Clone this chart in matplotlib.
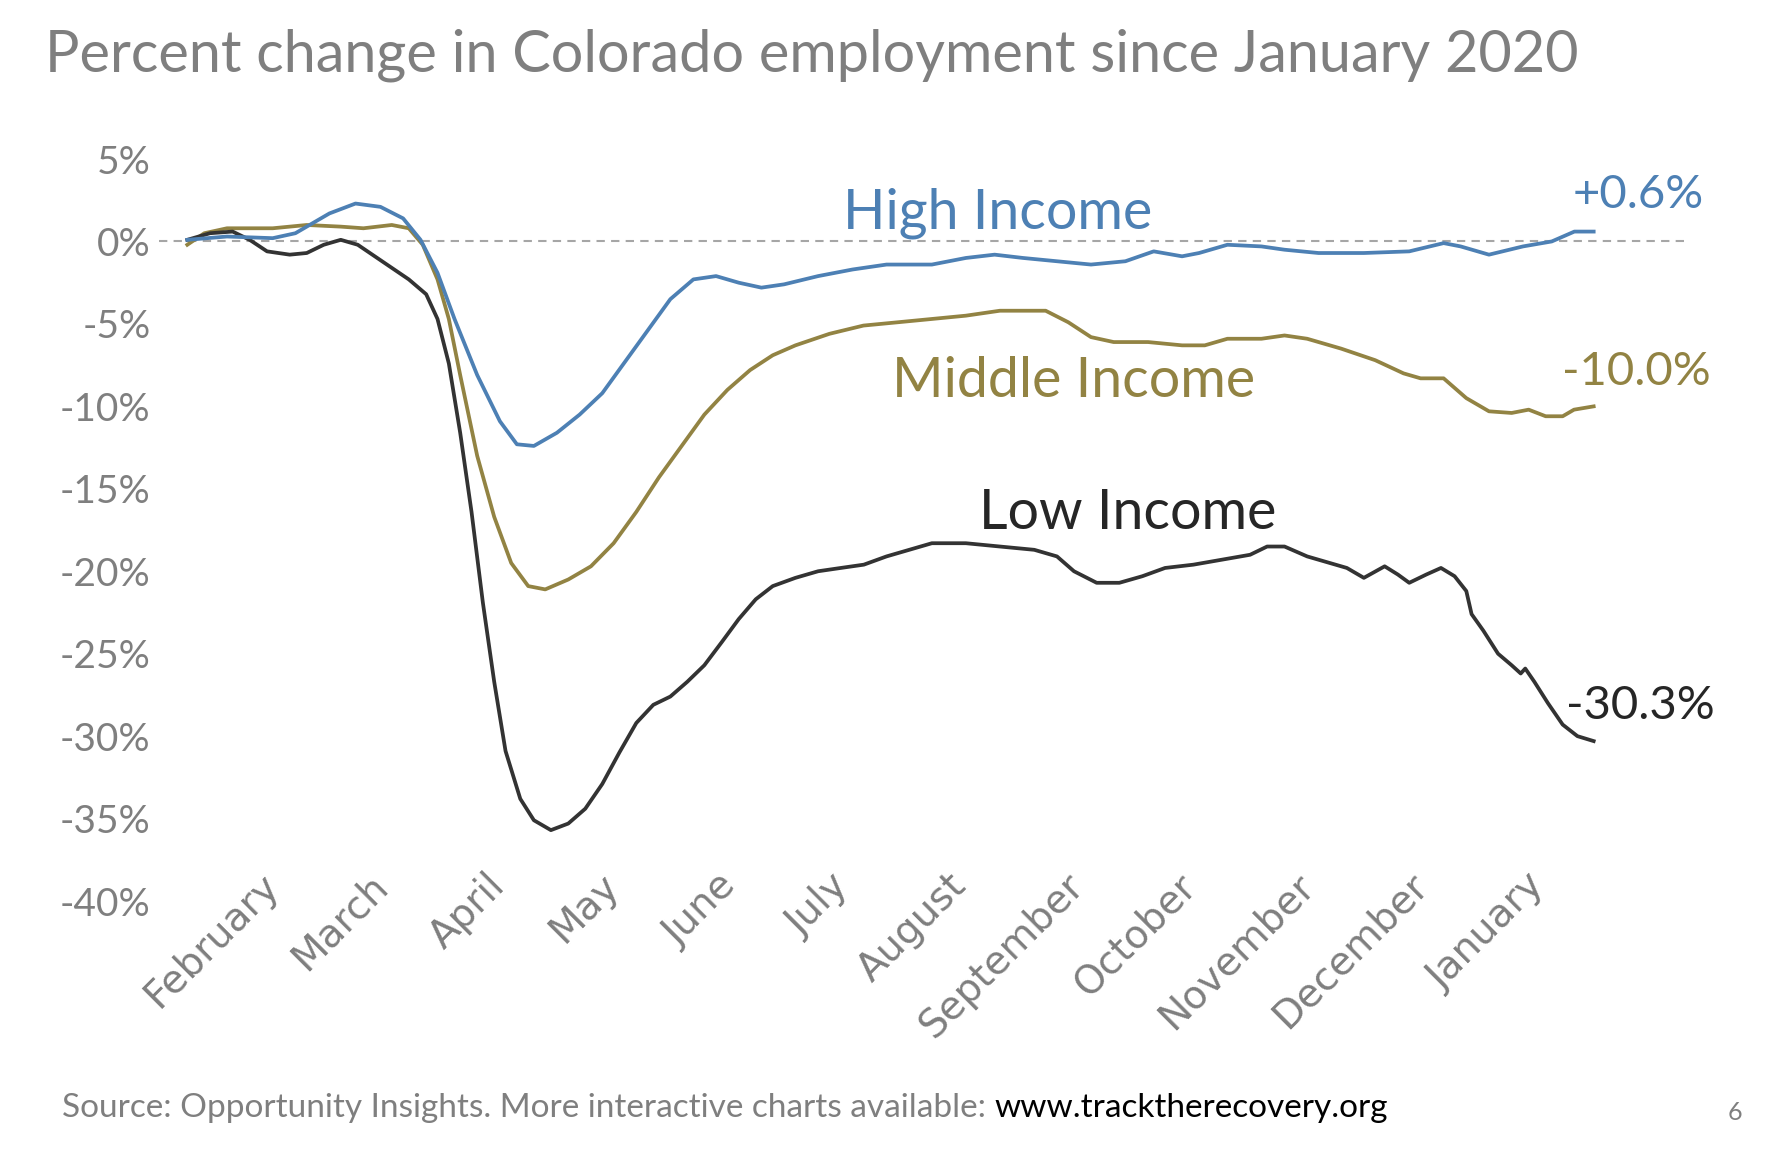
import pandas as pd
import matplotlib.pyplot as plt

# days since the first data point (13 Jan 2020)
high_days = [0, 10.5, 22.6, 28.6, 37.6, 44.5, 51.1, 57.1, 61.7, 66.2, 70.7, 76.7, 82.7, 87.2,
             91.7, 97.8, 103.8, 109.8, 115.8, 121.8, 127.8, 133.9, 139.9, 145.9, 151.9, 157.9,
             166.9, 176.0, 185.0, 197.0, 206.0, 213.6, 221.1, 230.1, 239.1, 248.2, 255.7, 263.2,
             267.7, 275.2, 284.2, 290.3, 299.3, 311.3, 323.3, 332.4, 336.9, 344.4, 353.4, 361.0,
             367.0, 372.1]
high_vals = [0.1, 0.3, 0.2, 0.5, 1.7, 2.3, 2.1, 1.4, 0.1, -1.9, -4.7, -8.1, -10.9, -12.3,
             -12.4, -11.6, -10.5, -9.2, -7.3, -5.4, -3.5, -2.3, -2.1, -2.5, -2.8, -2.6,
             -2.1, -1.7, -1.4, -1.4, -1.0, -0.8, -1.0, -1.2, -1.4, -1.2, -0.6, -0.9,
             -0.7, -0.2, -0.3, -0.5, -0.7, -0.7, -0.6, -0.1, -0.3, -0.8, -0.3, 0.0,
             0.6, 0.6]

mid_days = [0, 4.5, 10.5, 22.6, 31.6, 40.6, 46.6, 54.1, 58.6, 62.3, 66.2, 69.2, 72.2, 76.7,
            81.2, 85.7, 90.2, 94.7, 100.8, 106.8, 112.8, 118.8, 124.8, 130.8, 136.8, 142.9,
            148.9, 154.9, 160.9, 169.9, 178.9, 188.0, 197.0, 206.0, 215.0, 227.1, 233.1, 239.1,
            245.1, 254.2, 263.2, 269.2, 275.2, 284.2, 290.3, 296.3, 305.3, 314.3, 321.8, 326.3,
            332.4, 338.4, 344.4, 350.4, 354.9, 359.4, 363.9, 366.9, 372.1]
mid_vals = [-0.2, 0.5, 0.8, 0.8, 1.0, 0.9, 0.8, 1.0, 0.8, -0.2, -2.3, -4.7, -8.1, -13.0,
            -16.7, -19.5, -20.9, -21.1, -20.5, -19.7, -18.3, -16.4, -14.3, -12.4, -10.5, -9.0,
            -7.8, -6.9, -6.3, -5.6, -5.1, -4.9, -4.7, -4.5, -4.2, -4.2, -4.9, -5.8,
            -6.1, -6.1, -6.3, -6.3, -5.9, -5.9, -5.7, -5.9, -6.5, -7.2, -8.0, -8.3,
            -8.3, -9.5, -10.3, -10.4, -10.2, -10.6, -10.6, -10.2, -10.0]

low_days = [0, 6.0, 12.0, 16.5, 21.1, 27.1, 31.6, 36.1, 40.6, 45.1, 49.6, 54.1, 58.6, 63.2,
            66.2, 69.2, 72.2, 75.2, 78.2, 81.2, 84.2, 88.1, 91.7, 96.2, 100.8, 105.3, 109.8,
            114.3, 118.8, 123.3, 127.8, 132.3, 136.8, 141.4, 145.9, 150.4, 154.9, 160.9, 166.9,
            172.9, 179.0, 185.0, 191.0, 197.0, 206.0, 215.0, 224.1, 230.1, 234.6, 240.6, 246.6,
            252.7, 258.7, 266.2, 273.7, 281.2, 285.7, 290.3, 296.3, 302.3, 306.8, 311.3, 316.8,
            320.3, 323.3, 327.8, 331.7, 335.3, 338.4, 339.8, 342.9, 346.8, 350.4, 352.8, 354.0,
            356.4, 360.0, 363.9, 367.8, 372.1]
low_vals = [0.1, 0.5, 0.6, 0.1, -0.6, -0.8, -0.7, -0.2, 0.1, -0.2, -0.9, -1.6, -2.3, -3.2,
            -4.7, -7.4, -11.6, -16.4, -21.9, -26.7, -30.9, -33.8, -35.1, -35.7, -35.3, -34.4, -32.9,
            -31.0, -29.2, -28.1, -27.6, -26.7, -25.7, -24.3, -22.9, -21.7, -20.9, -20.4, -20.0,
            -19.8, -19.6, -19.1, -18.7, -18.3, -18.3, -18.5, -18.7, -19.1, -20.0, -20.7, -20.7,
            -20.3, -19.8, -19.6, -19.3, -19.0, -18.5, -18.5, -19.1, -19.5, -19.8, -20.4, -19.7,
            -20.2, -20.7, -20.2, -19.8, -20.3, -21.2, -22.6, -23.6, -25.0, -25.7, -26.2, -25.9,
            -26.7, -28.0, -29.3, -30.0, -30.3]

month_days = [19, 48, 79, 109, 140, 170, 201, 232, 262, 293, 323, 354]
month_names = ['February', 'March', 'April', 'May', 'June', 'July', 'August',
               'September', 'October', 'November', 'December', 'January']
y_ticks = [5, 0, -5, -10, -15, -20, -25, -30, -35, -40]

blue = '#4d80b4'
gold = '#928343'
dark = '#333333'
grey = '#7f7f7f'

W, H = 1782, 1154
fig = plt.figure(figsize=(W / 100, H / 100), dpi=100)
ax = fig.add_axes([0.0892, 0.2192, 0.8592, 0.643])


def fit_text(x, y, s, width_px, **kw):
    # put text and scale its size so it spans width_px pixels
    t = fig.text(x / W, 1 - y / H, s, fontsize=20, **kw)
    fig.canvas.draw()
    w = t.get_window_extent().width
    t.set_fontsize(20 * width_px / w)
    return t


ax.axhline(0, color='#a6a6a6', lw=1.5, ls=(0, (4, 3)), zorder=1)
ax.plot(high_days, high_vals, color=blue, lw=2.7, zorder=3, solid_joinstyle='round')
ax.plot(mid_days, mid_vals, color=gold, lw=2.7, zorder=2, solid_joinstyle='round')
ax.plot(low_days, low_vals, color=dark, lw=2.7, zorder=2, solid_joinstyle='round')

ax.set_xlim(-7.5, 397.6)
ax.set_ylim(-40, 5)
for s in ax.spines.values():
    s.set_visible(False)

ax.set_yticks(y_ticks)
ax.set_yticklabels([f'{v}%' for v in y_ticks], family='Lato', fontsize=28, color=grey)
ax.tick_params(axis='y', length=0, pad=6)

ax.set_xticks(month_days)
ax.set_xticklabels(month_names, rotation=45, ha='right', va='top', rotation_mode='anchor',
                   fontsize=28, color=grey, family='DejaVu Sans')
ax.tick_params(axis='x', length=0, pad=-25)

# series labels
ax.text(214.5, 1.7, 'High Income', color=blue, fontsize=40, family='Lato', ha='center', va='center')
ax.text(234.6, -8.5, 'Middle Income', color=gold, fontsize=40, family='Lato', ha='center', va='center')
ax.text(248.9, -16.5, 'Low Income', color='#262626', fontsize=40, family='Lato', ha='center', va='center')
ax.text(384, 2.8, '+0.6%', color=blue, fontsize=34, family='Lato', ha='center', va='center')
ax.text(383.5, -7.9, '-10.0%', color=gold, fontsize=34, family='Lato', ha='center', va='center')
ax.text(384.5, -28.2, '-30.3%', color='#262626', fontsize=34, family='Lato', ha='center', va='center')

fit_text(45, 55, 'Percent change in Colorado employment since January 2020', 1537,
         family='Lato', color=grey, va='center', ha='left')

src = fit_text(62, 1108, 'Source: Opportunity Insights. More interactive charts available: ', 935,
               family='Lato', color=grey, va='center', ha='left')
fig.canvas.draw()
bb = src.get_window_extent()
fig.text(bb.x1 / W, 1 - 1108 / H, 'www.tracktherecovery.org', family='Lato',
         fontsize=src.get_fontsize(), color='black', va='center', ha='left')
fig.text(1735 / W, 1 - 1112 / H, '6', family='Lato', fontsize=18, color=grey,
         va='center', ha='center')

fig.savefig('out.png', dpi=100)
